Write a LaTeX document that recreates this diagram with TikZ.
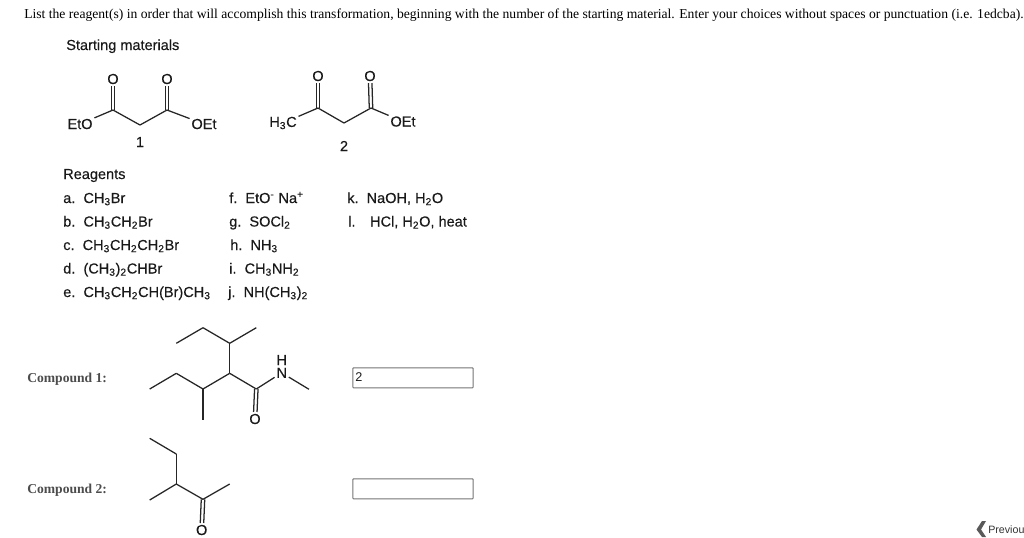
\documentclass[tikz,border=0pt]{standalone}
\usepackage{xcolor}
\usepackage{fontspec}
\setmainfont{Liberation Serif}
\setsansfont{Liberation Sans}
\newfontfamily\heavyfont[RawFeature={embolden=0.3}]{Liberation Sans}
\usepackage{tikz}
\tikzset{
  title/.style={anchor=west,inner sep=0pt,font=\rmfamily\fontsize{10.22}{12}\selectfont},
  reagent/.style={anchor=base west,inner sep=0pt,font=\heavyfont\fontsize{10.9}{13}\selectfont,text=black!90},
  atom/.style={inner sep=1.2pt,font=\heavyfont\fontsize{10.9}{13}\selectfont,text=black!90},
  cmpd/.style={anchor=west,inner sep=0pt,font=\rmfamily\bfseries\fontsize{10.2}{12}\selectfont,text=black!70},
  answer/.style={draw=black!55,line width=0.75pt,rounded corners=0.6pt,anchor=north west,
    minimum width=90.3pt,minimum height=15pt,inner sep=0pt},
  bond/.style={line width=0.95pt,draw=black!85},
  lft/.style={bond,transform canvas={xshift=-1.3pt}},
  rgt/.style={bond,transform canvas={xshift=1.3pt}}
}
\begin{document}
\begin{tikzpicture}[x=0.75pt,y=-0.75pt]
    \useasboundingbox (0,0) rectangle (1024,537);
    \node[title] (Q) at (24,15) {List the reagent(s) in order that will accomplish this transformation, beginning with the number of the starting material. Enter your choices without spaces or punctuation (i.e. 1edcba).};
    \node[reagent] (SM) at (66,50) {Starting materials};

    \node[atom] (EtOa) at (80,124) {EtO};
    \coordinate (Aa) at (113,110);
    \coordinate (Ab) at (140,125);
    \coordinate (Ac) at (167,110);
    \node[atom] (OEta) at (204,124) {OEt};
    \node[atom] (Oa) at (113,79) {O};
    \node[atom] (Ob) at (167,79) {O};
    \node[atom] (La) at (140,142) {1};
    \path [bond] (EtOa) edge (Aa);
    \path [bond] (Aa) edge (Ab);
    \path [bond] (Ab) edge (Ac);
    \path [bond] (Ac) edge (OEta);
    \draw [lft] (Aa) -- (Oa);
    \draw [rgt] (Aa) -- (Oa);
    \draw [lft] (Ac) -- (Ob);
    \draw [rgt] (Ac) -- (Ob);

    \node[atom] (HC) at (283,123) {H\textsubscript{3}C};
    \coordinate (Ba) at (318,108);
    \coordinate (Bb) at (344,123);
    \coordinate (Bc) at (371,108);
    \node[atom] (OEtb) at (403,121.5) {OEt};
    \node[atom] (Oc) at (318,76) {O};
    \node[atom] (Od) at (370,76) {O};
    \node[atom] (Lb) at (344,146) {2};
    \path [bond] (HC) edge (Ba);
    \path [bond] (Ba) edge (Bb);
    \path [bond] (Bb) edge (Bc);
    \path [bond] (Bc) edge (OEtb);
    \draw [lft] (Ba) -- (Oc);
    \draw [rgt] (Ba) -- (Oc);
    \draw [lft] (Bc) -- (Od);
    \draw [rgt] (Bc) -- (Od);

    \node[reagent] (R) at (63,179) {Reagents};
    \node[reagent] (Ra) at (63,203) {a.\ \ CH\textsubscript{3}Br};
    \node[reagent] (Rb) at (63,226.5) {b.\ \ CH\textsubscript{3}CH\textsubscript{2}Br};
    \node[reagent] (Rc) at (63,250) {c.\ \ CH\textsubscript{3}CH\textsubscript{2}CH\textsubscript{2}Br};
    \node[reagent] (Rd) at (63,273.5) {d.\ \ (CH\textsubscript{3})\textsubscript{2}CHBr};
    \node[reagent] (Re) at (63,297) {e.\ \ CH\textsubscript{3}CH\textsubscript{2}CH(Br)CH\textsubscript{3}};
    \node[reagent] (Rf) at (229,203) {f.\ \ EtO\textsuperscript{-} Na\textsuperscript{+}};
    \node[reagent] (Rg) at (229,226.5) {g.\ \ SOCl\textsubscript{2}};
    \node[reagent] (Rh) at (230,250) {h.\ \ NH\textsubscript{3}};
    \node[reagent] (Ri) at (229,273.5) {i.\ \ CH\textsubscript{3}NH\textsubscript{2}};
    \node[reagent] (Rj) at (228,297) {j.\ \ NH(CH\textsubscript{3})\textsubscript{2}};
    \node[reagent] (Rk) at (347,203) {k.\ \ NaOH, H\textsubscript{2}O};
    \node[reagent] (Rl) at (348,226.5) {l.\ \ \ \,HCl, H\textsubscript{2}O, heat};

    \node[cmpd] (CA) at (27,379.5) {Compound 1:};
    \coordinate (Ca) at (176.3,343.3);
    \coordinate (Cb) at (203,327.7);
    \coordinate (Cc) at (229.7,343.3);
    \coordinate (Cd) at (256.3,327.7);
    \coordinate (Ce) at (229.7,373.3);
    \coordinate (Cf) at (203,389);
    \coordinate (Cg) at (176.3,373.3);
    \coordinate (Ch) at (149.7,389);
    \coordinate (Ci) at (203,420);
    \coordinate (Cj) at (256.3,389);
    \coordinate (Ck) at (309,389.3);
    \node[atom] (Oe) at (255,419) {O};
    \node[atom] (N) at (281.7,372.8) {N};
    \node[atom] (H) at (281.7,360) {H};
    \path [bond] (Ca) edge (Cb);
    \path [bond] (Cb) edge (Cc);
    \path [bond] (Cc) edge (Cd);
    \path [bond] (Cc) edge (Ce);
    \path [bond] (Ce) edge (Cf);
    \path [bond] (Cf) edge (Cg);
    \path [bond] (Cg) edge (Ch);
    \path [bond] (Cf) edge (Ci);
    \path [bond] (Ce) edge (Cj);
    \path [bond] (Cj) edge (N);
    \path [bond] (N) edge (Ck);
    \draw [lft] (Cj) -- (Oe);
    \draw [rgt] (Cj) -- (Oe);

    \node[cmpd] (CB) at (27,490.5) {Compound 2:};
    \coordinate (Da) at (149.7,438.3);
    \coordinate (Db) at (176.3,454);
    \coordinate (Dc) at (176.3,484);
    \coordinate (Dd) at (149.7,500);
    \coordinate (De) at (203,499.3);
    \coordinate (Df) at (229.7,484);
    \node[atom] (Of) at (201.7,530) {O};
    \path [bond] (Da) edge (Db);
    \path [bond] (Db) edge (Dc);
    \path [bond] (Dc) edge (Dd);
    \path [bond] (Dc) edge (De);
    \path [bond] (De) edge (Df);
    \draw [lft] (De) -- (Of);
    \draw [rgt] (De) -- (Of);

    \node[answer] (BA) at (352.3,367.3) {};
    \node[reagent,font=\sffamily\fontsize{9.5}{11}\selectfont] (BT) at (355,381.5) {2};
    \node[answer] (BB) at (352.3,478.3) {};

    \fill[black!65] (986,521) -- (982,521) -- (976.5,529.5) -- (982,537) -- (986,537) -- (981,529.5) -- cycle;
    \node[anchor=west,inner sep=0pt,font=\sffamily\fontsize{8}{10}\selectfont,text=black!80] (P) at (988,530) {Previou};
  \end{tikzpicture}
\end{document}
